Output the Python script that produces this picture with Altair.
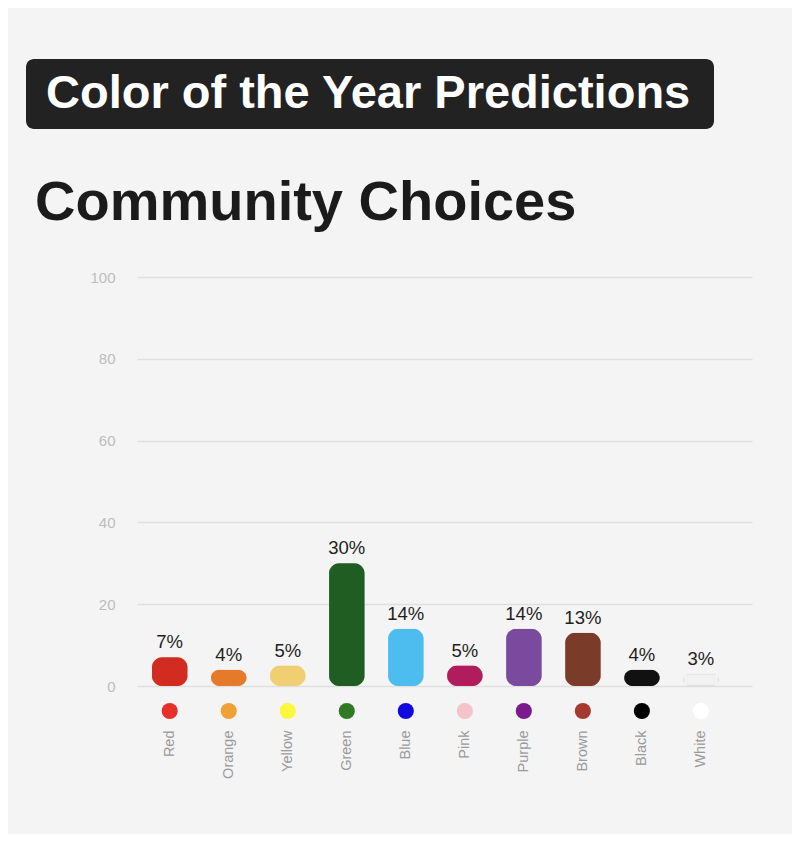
import altair as alt
import pandas as pd

colors = ["Red", "Orange", "Yellow", "Green", "Blue", "Pink", "Purple", "Brown", "Black", "White"]
percent = [7, 4, 5, 30, 14, 5, 14, 13, 4, 3]
bar_fill = ["#d12c1f", "#e57a2a", "#efcf72", "#1f5d23", "#4cbdee", "#b01c5c", "#7a4a9e", "#7a3b29", "#111111", "#f1f1f1"]
bar_stroke = ["#d12c1f", "#e57a2a", "#efcf72", "#1f5d23", "#4cbdee", "#b01c5c", "#7a4a9e", "#7a3b29", "#111111", "#c8c8c8"]
dot_fill = ["#e8302a", "#eea235", "#fbf73c", "#2f7a22", "#1208e0", "#f4c2c9", "#7b1a8c", "#a73a2f", "#000000", "#ffffff"]
y_ticks = [0, 20, 40, 60, 80, 100]
title_text = "Color of the Year Predictions"
subtitle_text = "Community Choices"

df = pd.DataFrame({
    "color": colors,
    "pct": percent,
    "label": [f"{v}%" for v in percent],
    "fill": bar_fill,
    "stroke": bar_stroke,
    "dot": dot_fill,
})

W, H = 615, 409
FONT = "Liberation Sans"

x = alt.X("color:N", sort=colors,
          scale=alt.Scale(paddingInner=0.4, paddingOuter=0.41, align=0.31),
          axis=alt.Axis(title=None, labelAngle=-90, labelAlign="right", labelBaseline="middle",
                        labelPadding=44, labelFontSize=14.5, labelColor="#9a9a9a", labelFont=FONT,
                        domain=False, ticks=False, grid=False))
y = alt.Y("pct:Q", scale=alt.Scale(domain=[0, 100], nice=False),
          axis=alt.Axis(title=None, values=y_ticks, labelFontSize=15, labelColor="#bdbdbd",
                        labelFont=FONT, labelPadding=22, domain=False, ticks=False,
                        grid=True, gridColor="#e0e0e0", gridWidth=1.5))

base = alt.Chart(df)

bars = base.mark_bar(cornerRadius=10, strokeWidth=1.2).encode(
    x=x, y=y,
    fill=alt.Fill("fill:N", scale=None),
    stroke=alt.Stroke("stroke:N", scale=None),
)

labels = base.mark_text(baseline="bottom", dy=-5, fontSize=18.5, font=FONT, color="#1e1e1e").encode(
    x=alt.X("color:N", sort=colors), y="pct:Q", text="label:N"
)

dots = base.mark_circle(size=260, opacity=1).encode(
    x=alt.X("color:N", sort=colors),
    y=alt.value(H + 25),
    fill=alt.Fill("dot:N", scale=None),
)

title_box = base.mark_rect(cornerRadius=8, color="#222222").encode(
    x=alt.value(-111), x2=alt.value(577), y=alt.value(-218), y2=alt.value(-148)
).transform_filter(alt.datum.color == "Red")

title = base.mark_text(align="left", baseline="alphabetic", fontSize=47, fontWeight="bold",
                       font=FONT, color="#ffffff").encode(
    x=alt.value(-91), y=alt.value(-169), text=alt.value(title_text)
).transform_filter(alt.datum.color == "Red")

subtitle = base.mark_text(align="left", baseline="alphabetic", fontSize=56, fontWeight="bold",
                          font=FONT, color="#1b1b1b").encode(
    x=alt.value(-102), y=alt.value(-57), text=alt.value(subtitle_text)
).transform_filter(alt.datum.color == "Red")

chart = alt.layer(bars, labels, dots, title_box, title, subtitle).resolve_scale(x="shared").properties(
    width=W, height=H,
    autosize=alt.AutoSizeParams(type="none"),
    padding={"left": 129, "top": 269, "right": 40, "bottom": 148},
    background="#f4f4f4",
).configure_view(stroke=None)

chart.save("out.html", embed_options={"renderer": "svg", "actions": False})
